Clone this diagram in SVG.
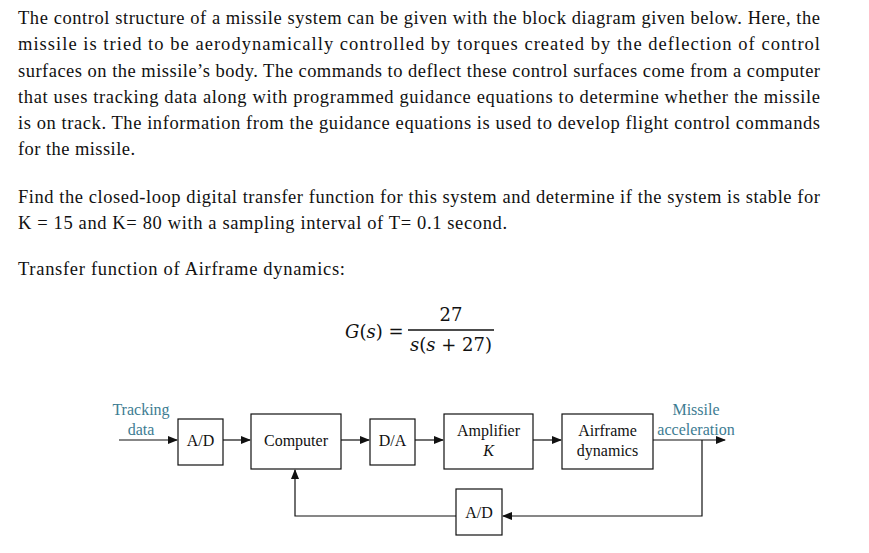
<svg xmlns="http://www.w3.org/2000/svg" width="869" height="553" viewBox="0 0 869 553">
<defs>
<style>
.p{font-family:"Liberation Serif","Times New Roman",serif;font-size:18.5px;fill:#111}
.b{fill:#fff;stroke:#111;stroke-width:1.2}
.t{font-family:"Liberation Serif","Times New Roman",serif;font-size:16px;fill:#111;text-anchor:middle}
.l{font-family:"Liberation Serif","Times New Roman",serif;font-size:16px;fill:#3d7c92;text-anchor:middle}
.c{fill:none;stroke:#111;stroke-width:1.2}
.m{font-family:"DejaVu Serif","Liberation Serif",serif;font-size:18px;fill:#111}
</style>
<marker id="a" markerWidth="10" markerHeight="8" refX="9" refY="4" orient="auto" markerUnits="userSpaceOnUse"><path d="M0,0 L10,4 L0,8 z" fill="#111"/></marker>
</defs>
<rect width="869" height="553" fill="#fff"/>
<g id="text">
<text class="p" x="18" y="24" textLength="802" lengthAdjust="spacing">The control structure of a missile system can be given with the block diagram given below. Here, the</text>
<text class="p" x="18" y="50" textLength="802" lengthAdjust="spacing">missile is tried to be aerodynamically controlled by torques created by the deflection of control</text>
<text class="p" x="18" y="77" textLength="802" lengthAdjust="spacing">surfaces on the missile’s body. The commands to deflect these control surfaces come from a computer</text>
<text class="p" x="18" y="103" textLength="802" lengthAdjust="spacing">that uses tracking data along with programmed guidance equations to determine whether the missile</text>
<text class="p" x="18" y="129" textLength="802" lengthAdjust="spacing">is on track. The information from the guidance equations is used to develop flight control commands</text>
<text class="p" x="18" y="155" textLength="117" lengthAdjust="spacing">for the missile.</text>
<text class="p" x="18" y="203" textLength="802" lengthAdjust="spacing">Find the closed-loop digital transfer function for this system and determine if the system is stable for</text>
<text class="p" x="18" y="229" textLength="489" lengthAdjust="spacing">K = 15 and K= 80 with a sampling interval of T= 0.1 second.</text>
<text class="p" x="18" y="275" textLength="327" lengthAdjust="spacing">Transfer function of Airframe dynamics:</text>
</g>
<g id="equation">
<text class="m" x="345" y="338"><tspan font-style="italic">G</tspan>(<tspan font-style="italic">s</tspan>) =</text>
<text class="m" x="451" y="321" text-anchor="middle">27</text>
<line x1="408" y1="330" x2="494" y2="330" stroke="#111" stroke-width="1.3"/>
<text class="m" x="451" y="351" text-anchor="middle"><tspan font-style="italic">s</tspan>(<tspan font-style="italic">s</tspan> + 27)</text>
</g>
<g id="connectors">
<line class="c" x1="119" y1="440" x2="177" y2="440" marker-end="url(#a)"/>
<line class="c" x1="223" y1="440" x2="250" y2="440" marker-end="url(#a)"/>
<line class="c" x1="341" y1="440" x2="369" y2="440" marker-end="url(#a)"/>
<line class="c" x1="415" y1="440" x2="443" y2="440" marker-end="url(#a)"/>
<line class="c" x1="533" y1="440" x2="561" y2="440" marker-end="url(#a)"/>
<line class="c" x1="653" y1="440" x2="725" y2="440" marker-end="url(#a)"/>
<polyline class="c" points="702,440 702,516 503,516" marker-end="url(#a)"/>
<polyline class="c" points="456,516 295,516 295,470" marker-end="url(#a)"/>
</g>
<g id="ad1"><rect class="b" x="178" y="419" width="45" height="46"/><text class="t" x="200.5" y="446">A/D</text></g>
<g id="computer"><rect class="b" x="251" y="414" width="90" height="55"/><text class="t" x="296" y="446">Computer</text></g>
<g id="da"><rect class="b" x="370" y="419" width="45" height="46"/><text class="t" x="392.5" y="446">D/A</text></g>
<g id="amplifier"><rect class="b" x="444" y="414" width="89" height="55"/><text class="t" x="488.5" y="436">Amplifier</text><text class="t" x="488.5" y="456" font-style="italic">K</text></g>
<g id="airframe"><rect class="b" x="562" y="414" width="91" height="55"/><text class="t" x="607.5" y="436">Airframe</text><text class="t" x="607.5" y="456">dynamics</text></g>
<g id="ad2"><rect class="b" x="456" y="489" width="46" height="46"/><text class="t" x="479" y="518">A/D</text></g>
<g id="labels">
<text class="l" x="141" y="415">Tracking</text><text class="l" x="141" y="435">data</text>
<text class="l" x="696" y="415">Missile</text><text class="l" x="696" y="435">acceleration</text>
</g>
</svg>
